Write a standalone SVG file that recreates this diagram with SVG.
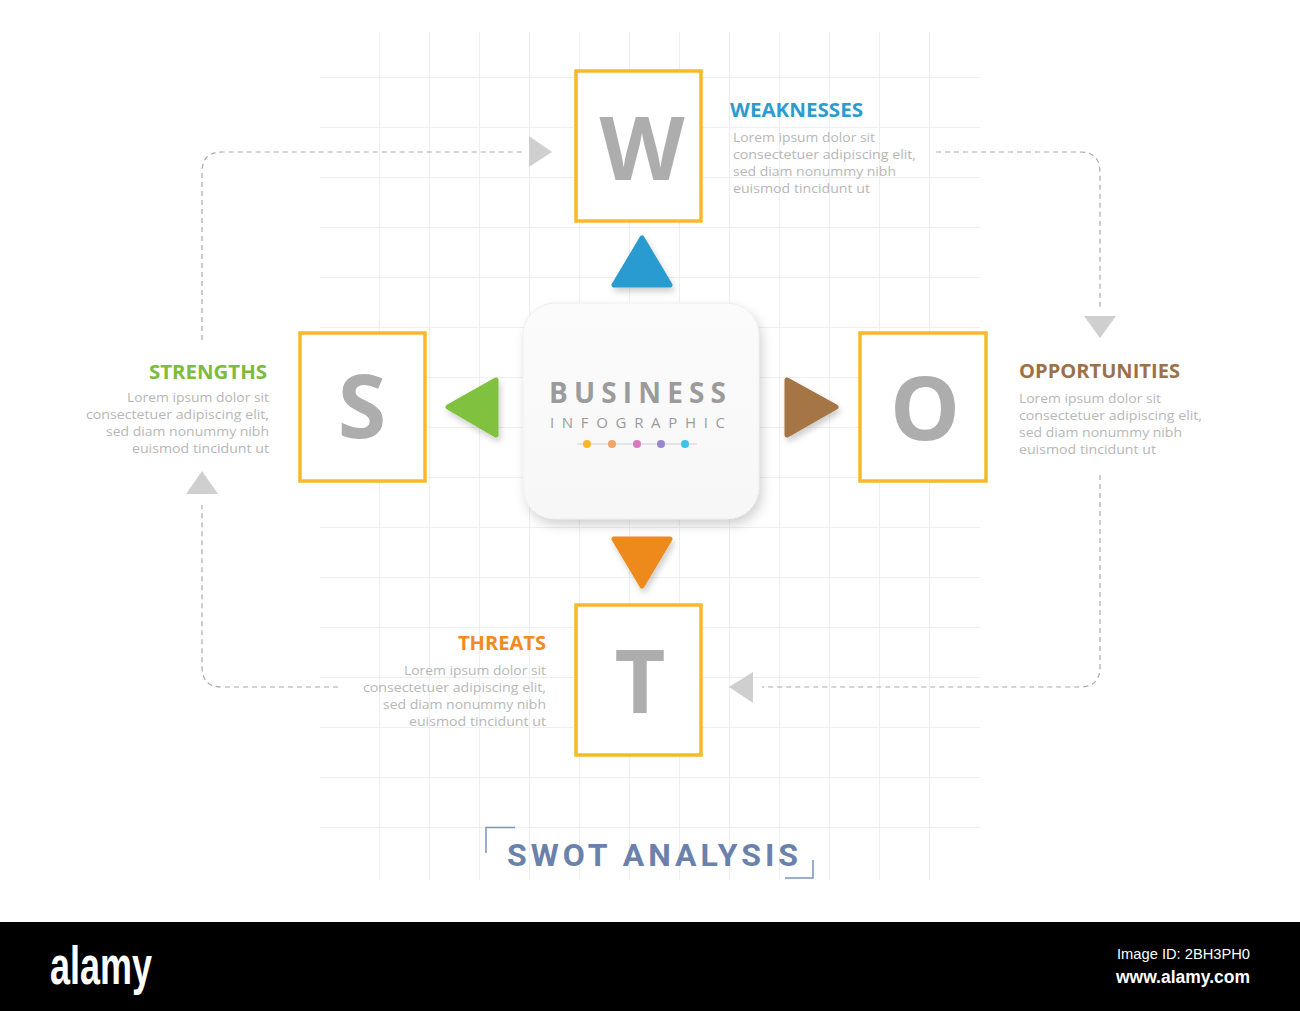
<svg xmlns="http://www.w3.org/2000/svg" width="1300" height="1011" viewBox="0 0 1300 1011">
<style>
.grid line{stroke:#efefef;stroke-width:1}
.box{fill:#ffffff;stroke:#f7b928;stroke-width:3.5}
.letter{font-family:"Open Sans","Liberation Sans",sans-serif;font-weight:700;font-size:88px;fill:#adadad;text-anchor:middle}
.title{font-family:"Open Sans","Liberation Sans",sans-serif;font-weight:700;font-size:20px}
.body{font-family:"Open Sans","Liberation Sans",sans-serif;font-size:13.5px;fill:#b7b7b7}
.dash{fill:none;stroke:#aaaaaa;stroke-width:1.2;stroke-dasharray:5 4}
.garrow{fill:#cfcfcf}
.tri{stroke-width:5;stroke-linejoin:round}
.dot{stroke:none}
</style>
<defs>
<filter id="sh" x="-30%" y="-30%" width="160%" height="160%">
<feDropShadow dx="3" dy="6" stdDeviation="6" flood-color="#000" flood-opacity="0.18"/>
</filter>
<filter id="tsh" x="-30%" y="-30%" width="160%" height="170%">
<feDropShadow dx="2" dy="4" stdDeviation="3" flood-color="#000" flood-opacity="0.2"/>
</filter>
<linearGradient id="cg" x1="0" y1="0" x2="0" y2="1">
<stop offset="0" stop-color="#fbfbfb"/>
<stop offset="1" stop-color="#f7f7f7"/>
</linearGradient>
</defs>
<rect width="1300" height="1011" fill="#ffffff"/>
<g class="grid">
<line x1="379.5" y1="32" x2="379.5" y2="880"/>
<line x1="429.5" y1="32" x2="429.5" y2="880"/>
<line x1="479.5" y1="32" x2="479.5" y2="880"/>
<line x1="529.5" y1="32" x2="529.5" y2="880"/>
<line x1="579.5" y1="32" x2="579.5" y2="880"/>
<line x1="629.5" y1="32" x2="629.5" y2="880"/>
<line x1="679.5" y1="32" x2="679.5" y2="880"/>
<line x1="729.5" y1="32" x2="729.5" y2="880"/>
<line x1="779.5" y1="32" x2="779.5" y2="880"/>
<line x1="829.5" y1="32" x2="829.5" y2="880"/>
<line x1="879.5" y1="32" x2="879.5" y2="880"/>
<line x1="929.5" y1="32" x2="929.5" y2="880"/>
<line x1="320" y1="77.5" x2="980" y2="77.5"/>
<line x1="320" y1="127.5" x2="980" y2="127.5"/>
<line x1="320" y1="177.5" x2="980" y2="177.5"/>
<line x1="320" y1="227.5" x2="980" y2="227.5"/>
<line x1="320" y1="277.5" x2="980" y2="277.5"/>
<line x1="320" y1="327.5" x2="980" y2="327.5"/>
<line x1="320" y1="377.5" x2="980" y2="377.5"/>
<line x1="320" y1="427.5" x2="980" y2="427.5"/>
<line x1="320" y1="477.5" x2="980" y2="477.5"/>
<line x1="320" y1="527.5" x2="980" y2="527.5"/>
<line x1="320" y1="577.5" x2="980" y2="577.5"/>
<line x1="320" y1="627.5" x2="980" y2="627.5"/>
<line x1="320" y1="677.5" x2="980" y2="677.5"/>
<line x1="320" y1="727.5" x2="980" y2="727.5"/>
<line x1="320" y1="777.5" x2="980" y2="777.5"/>
<line x1="320" y1="827.5" x2="980" y2="827.5"/>
</g>
<g id="connectors">
<path class="dash" d="M202,340 V172 Q202,152 222,152 H524"/>
<polygon class="garrow" points="529,136 529,167 552,152"/>
<path class="dash" d="M936,152 H1080 Q1100,152 1100,172 V308"/>
<polygon class="garrow" points="1084,316 1116,316 1100,338" fill="#dddddd"/>
<path class="dash" d="M1100,475 V667 Q1100,687 1080,687 H762"/>
<polygon class="garrow" points="753,672 753,703 729,687"/>
<path class="dash" d="M338,687 H222 Q202,687 202,667 V505"/>
<polygon class="garrow" points="186,494 218,494 202,471"/>
</g>
<g id="center">
<rect x="523" y="303" width="236" height="216" rx="32" fill="url(#cg)" filter="url(#sh)"/>
<rect x="523" y="303" width="236" height="216" rx="32" fill="none" stroke="#f0f0f0" stroke-width="1"/>
<text x="549" y="403" font-family="Open Sans,Liberation Sans,sans-serif" font-weight="700" font-size="28" fill="#9b9b9b" textLength="177" lengthAdjust="spacing">BUSINESS</text>
<text x="550" y="428" font-family="Open Sans,Liberation Sans,sans-serif" font-size="15" fill="#9b9b9b" textLength="175" lengthAdjust="spacing">INFOGRAPHIC</text>
<line x1="577" y1="444" x2="697" y2="444" stroke="#cfcfcf" stroke-width="1"/>
<circle class="dot" cx="587" cy="444" r="4" fill="#f8b62a"/>
<circle class="dot" cx="612" cy="444" r="4" fill="#f2a36a"/>
<circle class="dot" cx="637" cy="444" r="4" fill="#d977c1"/>
<circle class="dot" cx="661" cy="444" r="4" fill="#9a86cd"/>
<circle class="dot" cx="685" cy="444" r="4" fill="#3bc3e8"/>
</g>
<g id="arrow-w"><polygon class="tri" points="642,238 614,285 670,285" fill="#2a9bd0" stroke="#2a9bd0" filter="url(#tsh)"/></g>
<g id="arrow-s"><polygon class="tri" points="448,407 496,380 496,435" fill="#80c241" stroke="#80c241" filter="url(#tsh)"/></g>
<g id="arrow-o"><polygon class="tri" points="836,407 787,380 787,435" fill="#a57544" stroke="#a57544" filter="url(#tsh)"/></g>
<g id="arrow-t"><polygon class="tri" points="614,539 670,539 642,586" fill="#ee8a1e" stroke="#ee8a1e" filter="url(#tsh)"/></g>
<g id="node-w">
<rect class="box" x="576" y="71" width="125" height="150"/>
<text class="letter" x="642" y="180">W</text>
<text class="title" x="730" y="117" fill="#2c9ccf" textLength="133" lengthAdjust="spacingAndGlyphs">WEAKNESSES</text>
<text class="body" x="733" y="142" textLength="142" lengthAdjust="spacingAndGlyphs">Lorem ipsum dolor sit</text>
<text class="body" x="733" y="159" textLength="183" lengthAdjust="spacingAndGlyphs">consectetuer adipiscing elit,</text>
<text class="body" x="733" y="176" textLength="163" lengthAdjust="spacingAndGlyphs">sed diam nonummy nibh</text>
<text class="body" x="733" y="193" textLength="137" lengthAdjust="spacingAndGlyphs">euismod tincidunt ut</text>
</g>
<g id="node-s">
<rect class="box" x="300" y="333" width="125" height="148"/>
<text class="letter" x="362" y="438">S</text>
<text class="title" x="267" y="379" fill="#7cbb3d" text-anchor="end" textLength="118" lengthAdjust="spacingAndGlyphs">STRENGTHS</text>
<text class="body" x="269" y="402" text-anchor="end" textLength="142" lengthAdjust="spacingAndGlyphs">Lorem ipsum dolor sit</text>
<text class="body" x="269" y="419" text-anchor="end" textLength="183" lengthAdjust="spacingAndGlyphs">consectetuer adipiscing elit,</text>
<text class="body" x="269" y="436" text-anchor="end" textLength="163" lengthAdjust="spacingAndGlyphs">sed diam nonummy nibh</text>
<text class="body" x="269" y="453" text-anchor="end" textLength="137" lengthAdjust="spacingAndGlyphs">euismod tincidunt ut</text>
</g>
<g id="node-o">
<rect class="box" x="860" y="333" width="126" height="148"/>
<text class="letter" x="925" y="440">O</text>
<text class="title" x="1019" y="378" fill="#9c714a" textLength="161" lengthAdjust="spacingAndGlyphs">OPPORTUNITIES</text>
<text class="body" x="1019" y="403" textLength="142" lengthAdjust="spacingAndGlyphs">Lorem ipsum dolor sit</text>
<text class="body" x="1019" y="420" textLength="183" lengthAdjust="spacingAndGlyphs">consectetuer adipiscing elit,</text>
<text class="body" x="1019" y="437" textLength="163" lengthAdjust="spacingAndGlyphs">sed diam nonummy nibh</text>
<text class="body" x="1019" y="454" textLength="137" lengthAdjust="spacingAndGlyphs">euismod tincidunt ut</text>
</g>
<g id="node-t">
<rect class="box" x="576" y="605" width="125" height="150"/>
<text class="letter" x="640" y="713">T</text>
<text class="title" x="546" y="650" fill="#ee8b22" text-anchor="end" textLength="88" lengthAdjust="spacingAndGlyphs">THREATS</text>
<text class="body" x="546" y="675" text-anchor="end" textLength="142" lengthAdjust="spacingAndGlyphs">Lorem ipsum dolor sit</text>
<text class="body" x="546" y="692" text-anchor="end" textLength="183" lengthAdjust="spacingAndGlyphs">consectetuer adipiscing elit,</text>
<text class="body" x="546" y="709" text-anchor="end" textLength="163" lengthAdjust="spacingAndGlyphs">sed diam nonummy nibh</text>
<text class="body" x="546" y="726" text-anchor="end" textLength="137" lengthAdjust="spacingAndGlyphs">euismod tincidunt ut</text>
</g>
<g id="title">
<path d="M486,853 V827.5 H515" fill="none" stroke="#7b93c0" stroke-width="1.5"/>
<path d="M785,878 H813 V860" fill="none" stroke="#7b93c0" stroke-width="1.5"/>
<text x="507" y="866" font-family="Roboto,Liberation Sans,sans-serif" font-weight="700" font-size="32" fill="#6a82ab" textLength="291" lengthAdjust="spacing">SWOT ANALYSIS</text>
</g>
<g id="footer">
<rect x="0" y="922" width="1300" height="89" fill="#000000"/>
<text x="50" y="984" font-family="Liberation Sans,sans-serif" font-weight="700" font-size="54" fill="#ffffff" textLength="102" lengthAdjust="spacingAndGlyphs">alamy</text>
<text x="1250" y="959" font-family="Liberation Sans,sans-serif" font-size="15" fill="#ffffff" text-anchor="end" textLength="133" lengthAdjust="spacingAndGlyphs">Image ID: 2BH3PH0</text>
<text x="1250" y="983" font-family="Liberation Sans,sans-serif" font-weight="700" font-size="18" fill="#ffffff" text-anchor="end" textLength="134" lengthAdjust="spacingAndGlyphs">www.alamy.com</text>
</g>
</svg>
